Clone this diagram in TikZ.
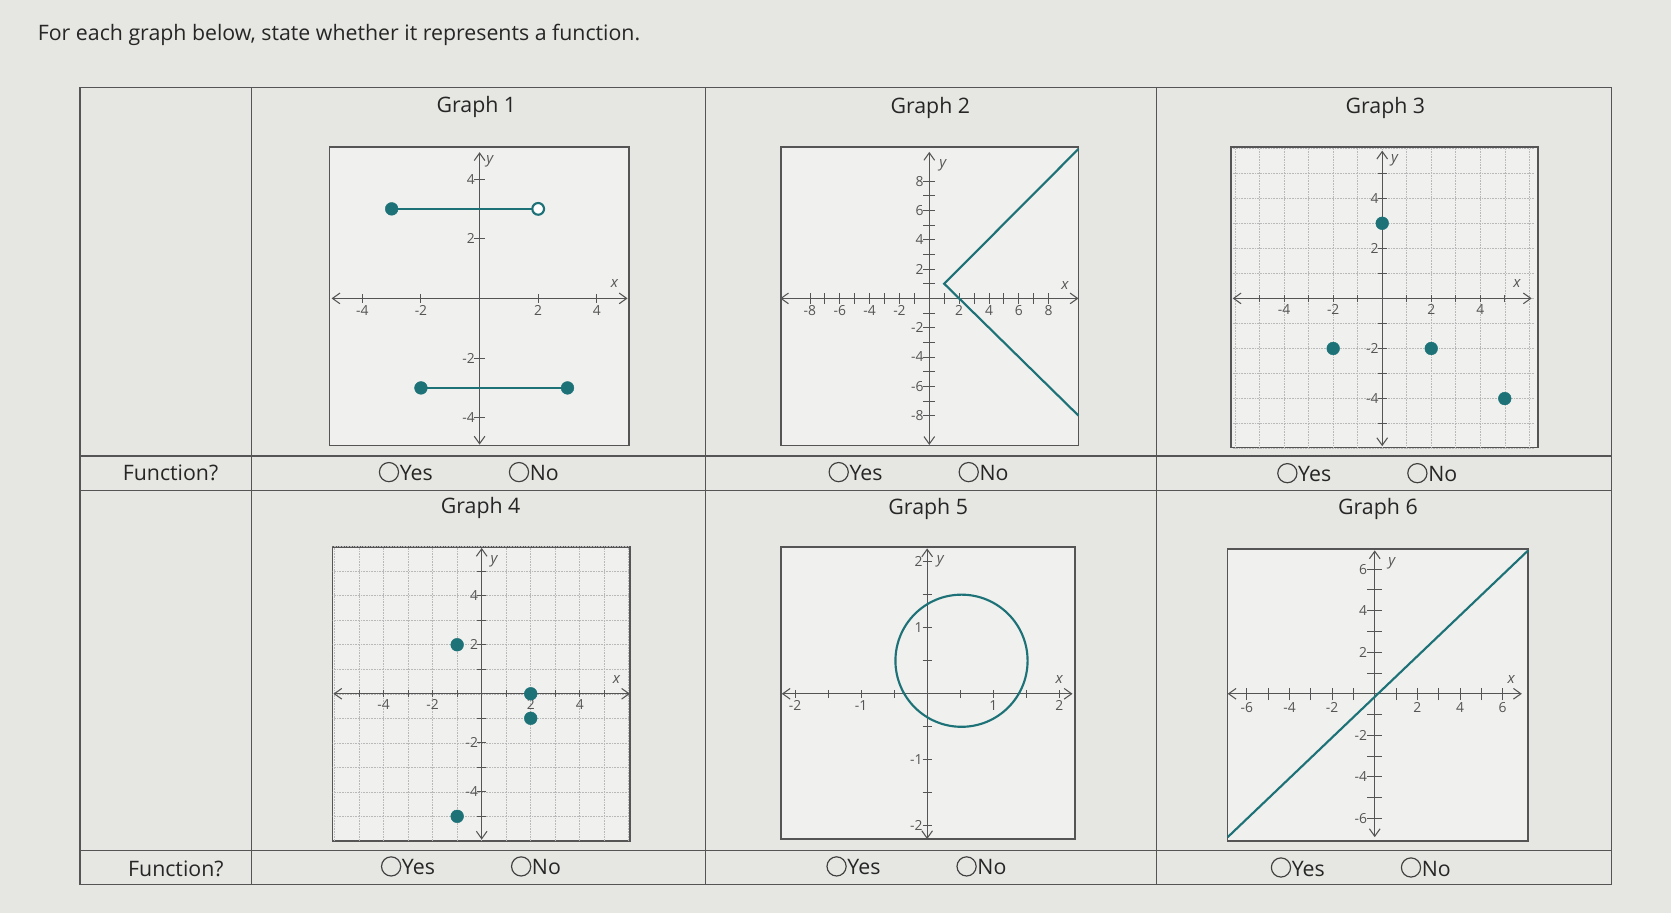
\documentclass[tikz,border=0pt]{standalone}
\usepackage{fontspec}
\setmainfont{Open Sans}
\usetikzlibrary{arrows.meta}
\definecolor{bg}{HTML}{E6E6E2}
\definecolor{teal}{HTML}{1D7278}
\definecolor{ln}{HTML}{555555}
\tikzset{
  frame/.style={draw=ln, line width=1.2pt},
  gbox/.style={draw=ln, line width=1.5pt, fill=bg!60!white},
  ax/.style={draw=ln, line width=1pt, {Straight Barb[length=7pt,width=10pt]}-{Straight Barb[length=7pt,width=10pt]}},
  grd/.style={draw=gray!55, densely dotted, line width=0.5pt},
  tk/.style={font=\fontsize{13}{13}\selectfont, text=ln, inner sep=1pt},
  fn/.style={teal, line width=2pt},
  dot/.style={circle, fill=teal, draw=teal, minimum size=12pt, inner sep=0},
  odot/.style={circle, fill=white, draw=teal, line width=2pt, minimum size=11pt, inner sep=0},
  txt/.style={font=\fontsize{20}{22}\selectfont, text=black!85},
  yn/.style={font=\fontsize{20}{22}\selectfont, text=black!85, inner sep=0},
}
\newcommand{\yesno}[2]{%
  \draw[line width=1.1pt, black!75] (#1,#2) circle (9);
  \node[yn, anchor=west] at ({#1+10},{#2+1}) {Yes};
  \draw[line width=1.1pt, black!75] ({#1+122},#2) circle (9);
  \node[yn, anchor=west] at ({#1+132},{#2+1}) {No};}
\begin{document}
\begin{tikzpicture}[x=1pt,y=-1pt]
\fill[bg] (0,0) rectangle (1568,857);
\useasboundingbox (0,0) rectangle (1568,857);
\node[txt, anchor=west] (title) at (32,33) {For each graph below, state whether it represents a function.};
% table
\draw[frame] (75,82) rectangle (1512,830);
\foreach \y in {428,460,798} \draw[frame] (75,\y) -- (1512,\y);
\draw[frame] (236,82) -- (236,830);
\draw[frame] (662,82) -- (662,830);
\draw[frame] (1085,82) -- (1085,830);
\node[txt] (f1) at (160,444) {Function?};
\node[txt] (f2) at (165,815) {Function?};
\node[txt] (t1) at (447,100) {Graph 1};
\node[txt] (t2) at (873,101) {Graph 2};
\node[txt] (t3) at (1300,101) {Graph 3};
\node[txt] (t4) at (451,477) {Graph 4};
\node[txt] (t5) at (871,478) {Graph 5};
\node[txt] (t6) at (1293,478) {Graph 6};
\yesno{365}{443}\yesno{787}{443}\yesno{1208}{444}
\yesno{367}{813}\yesno{785}{813}\yesno{1202}{814}

% ---------- Graph 1
\draw[gbox] (309,138) rectangle (590,418);
\begin{scope}[shift={(450,280)}, x=27.5pt, y=28pt]
  \draw[ax] (-5.05,0) -- (5.05,0); \draw[ax] (0,-4.9) -- (0,4.9);
  \foreach \v in {-4,-2,2,4}{
    \draw[ln, line width=1pt] (\v,-0.15) -- (\v,0.15);
    \draw[ln, line width=1pt] (-0.18,\v) -- (0.18,\v);
    \node[tk, below] at (\v,-0.2) {\v};
    \node[tk, left] at (-0.12,\v) {\v};}
  \node[tk, font=\fontsize{14}{14}\selectfont\itshape] at (0.35,4.6) {y};
  \node[tk, font=\fontsize{14}{14}\selectfont\itshape] at (4.6,0.5) {x};
  \draw[fn] (-3,3) -- (2,3); \draw[fn] (-2,-3) -- (3,-3);
  \node[dot] (a1) at (-3,3) {}; \node[odot] (a2) at (2,3) {};
  \node[dot] (a3) at (-2,-3) {}; \node[dot] (a4) at (3,-3) {};
\end{scope}

% ---------- Graph 2
\draw[gbox] (733,138) rectangle (1012,418);
\begin{scope}[shift={(872,280)}, x=14pt, y=13.75pt]
  \draw[ax] (-10,0) -- (10,0); \draw[ax] (0,-10) -- (0,10);
  \foreach \v in {-8,-7,...,8}{
    \draw[ln, line width=0.8pt] (\v,-0.35) -- (\v,0.35);
    \draw[ln, line width=0.8pt] (-0.4,\v) -- (0.4,\v);}
  \foreach \v in {-8,-6,-4,-2,2,4,6,8}{
    \node[tk, below] at (\v,-0.4) {\v};
    \node[tk, left] at (-0.3,\v) {\v};}
  \node[tk, font=\fontsize{14}{14}\selectfont\itshape] at (0.9,9.1) {y};
  \node[tk, font=\fontsize{14}{14}\selectfont\itshape] at (9.1,0.9) {x};
  \draw[fn] (10,10.2) -- (1,1) -- (10,-8);
\end{scope}

% ---------- Graph 3
\draw[gbox] (1155,138) rectangle (1443,420);
\begin{scope}[shift={(1297,280)}, x=23pt, y=23.5pt]
  \foreach \v in {-6,...,6} \draw[grd] (\v,-6) -- (\v,6);
  \foreach \v in {-6,...,6} \draw[grd] (-6.1,\v) -- (6.2,\v);
  \draw[ax] (-6.1,0) -- (6.1,0); \draw[ax] (0,-5.9) -- (0,5.9);
  \foreach \v in {-5,...,5}{
    \draw[ln, line width=0.8pt] (\v,-0.15) -- (\v,0.15);
    \draw[ln, line width=0.8pt] (-0.18,\v) -- (0.18,\v);}
  \foreach \v in {-4,-2,2,4}{
    \node[tk, below] at (\v,-0.2) {\v};
    \node[tk, left] at (-0.1,\v) {\v};}
  \node[tk, font=\fontsize{14}{14}\selectfont\itshape] at (0.5,5.5) {y};
  \node[tk, font=\fontsize{14}{14}\selectfont\itshape] at (5.5,0.6) {x};
  \node[dot] (b1) at (0,3) {}; \node[dot] (b2) at (-2,-2) {};
  \node[dot] (b3) at (2,-2) {}; \node[dot] (b4) at (5,-4) {};
\end{scope}

% ---------- Graph 4
\draw[gbox] (312,513) rectangle (591,789);
\begin{scope}[shift={(452,651)}, x=23pt, y=23pt]
  \clip (-6.08,-6) rectangle (6.05,6);
  \foreach \v in {-6,...,6} \draw[grd] (\v,-6) -- (\v,6);
  \foreach \v in {-6,...,6} \draw[grd] (-6.1,\v) -- (6.1,\v);
  \draw[ax] (-6.05,0) -- (6.05,0); \draw[ax] (0,-5.95) -- (0,5.95);
  \foreach \v in {-5,...,5}{
    \draw[ln, line width=0.8pt] (\v,-0.15) -- (\v,0.15);
    \draw[ln, line width=0.8pt] (-0.18,\v) -- (0.18,\v);}
  \foreach \v in {-4,-2,2,4}{
    \node[tk, below] at (\v,-0.2) {\v};
    \node[tk, left] at (-0.1,\v) {\v};}
  \node[tk, font=\fontsize{14}{14}\selectfont\itshape] at (0.5,5.4) {y};
  \node[tk, font=\fontsize{14}{14}\selectfont\itshape] at (5.5,0.6) {x};
  \node[dot] (c1) at (-1,2) {}; \node[dot] (c2) at (2,0) {};
  \node[dot] (c3) at (2,-1) {}; \node[dot] (c4) at (-1,-5) {};
\end{scope}

% ---------- Graph 5
\draw[gbox] (733,513) rectangle (1009,787);
\begin{scope}[shift={(870,651)}, x=62pt, y=62pt]
  \draw[ax] (-2.2,0) -- (2.2,0); \draw[ax] (0,-2.2) -- (0,2.2);
  \foreach \v in {-2,-1.5,...,2}{
    \draw[ln, line width=0.8pt] (\v,-0.06) -- (\v,0.06);
    \draw[ln, line width=0.8pt] (-0.07,\v) -- (0.07,\v);}
  \foreach \v in {-2,-1,1,2}{
    \node[tk, below] at (\v,-0.08) {\v};
    \node[tk, left] at (-0.05,\v) {\v};}
  \node[tk, font=\fontsize{14}{14}\selectfont\itshape] at (0.2,2.0) {y};
  \node[tk, font=\fontsize{14}{14}\selectfont\itshape] at (2.0,0.22) {x};
  \draw[fn] (0.52,0.5) circle (1);
\end{scope}

% ---------- Graph 6
\draw[gbox] (1152,515) rectangle (1434,789);
\begin{scope}[shift={(1290,651)}, x=20pt, y=19.5pt]
  \draw[ax] (-6.9,0) -- (6.9,0); \draw[ax] (0,-6.9) -- (0,6.9);
  \foreach \v in {-6,...,6}{
    \draw[ln, line width=0.8pt] (\v,-0.3) -- (\v,0.3);
    \draw[ln, line width=0.8pt] (-0.35,\v) -- (0.35,\v);}
  \foreach \v in {-6,-4,-2,2,4,6}{
    \node[tk, below] at (\v,-0.35) {\v};
    \node[tk, left] at (-0.3,\v) {\v};}
  \node[tk, font=\fontsize{14}{14}\selectfont\itshape] at (0.8,6.3) {y};
  \node[tk, font=\fontsize{14}{14}\selectfont\itshape] at (6.4,0.7) {x};
  \draw[fn] (-6.9,-6.9) -- (7.2,6.9);
\end{scope}
\end{tikzpicture}
\end{document}
